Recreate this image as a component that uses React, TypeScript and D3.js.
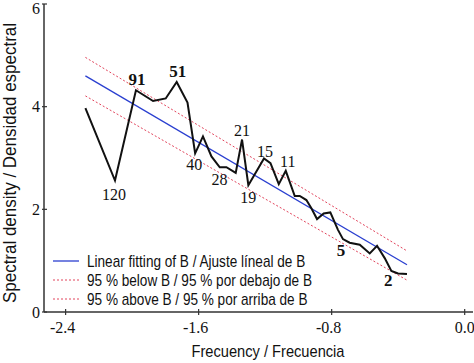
import React from 'react';
import * as d3 from 'd3';

// spectral density vs frequency (log-log)
const freq = [
  -2.281, -2.103, -1.977, -1.874, -1.798, -1.732, -1.667, -1.621, -1.574, -1.523,
  -1.473, -1.433, -1.377, -1.339, -1.301, -1.207, -1.168, -1.118, -1.076, -1.022,
  -0.992, -0.952, -0.922, -0.888, -0.848, -0.808, -0.762, -0.732, -0.692, -0.631,
  -0.571, -0.527, -0.481, -0.441, -0.401, -0.347,
];
const density = [
  3.97, 2.56, 4.32, 4.11, 4.16, 4.48, 4.08, 3.09, 3.42, 3.03,
  2.82, 2.82, 2.71, 3.36, 2.47, 2.99, 2.90, 2.49, 2.75, 2.26,
  2.26, 2.18, 2.02, 1.81, 1.92, 1.94, 1.60, 1.42, 1.35, 1.31,
  1.14, 1.29, 1.05, 0.80, 0.75, 0.74,
];

// fitted line and 95% bands, given at the two ends
const fitX = [-2.281, -0.347];
const fitY = [4.60, 0.92];
const upperY = [4.96, 1.19];
const lowerY = [4.21, 0.62];

// point labels (period), the point they sit on, and weight
const labelText = ['120', '91', '51', '40', '28', '21', '19', '15', '11', '5', '2'];
const labelPoint = [1, 2, 5, 7, 11, 13, 14, 15, 18, 27, 33];
const labelBold = [false, true, true, false, false, false, false, false, false, true, true];

const xTicks = [-2.4, -1.6, -0.8, 0.0];
const yTicks = [0, 2, 4, 6];

const legendItems = [
  'Linear fitting of B / Ajuste líneal de B',
  '95 % below B / 95 % por debajo de B',
  '95 % above B / 95 % por arriba de B',
];

const W = 474;
const H = 363;
const serif = '"Liberation Serif", "Times New Roman", serif';
const sans = '"Liberation Sans", Arial, sans-serif';

// label placement relative to its point, in px
const labelOffset: [number, number][] = [
  [-1, 19], [1, -5], [1, -5], [-1, 17], [-7, 18], [0, -4],
  [0, 18], [1, -2], [2, -4], [-2, 17], [-3, 15],
];

export default function App() {
  const x = d3.scaleLinear().domain([-2.53, 0.05]).range([44, 473]);
  const y = d3.scaleLinear().domain([0, 6]).range([312, 4]);

  const pts = freq.map((f, i) => [f, density[i]] as [number, number]);
  const line = d3.line<[number, number]>().x(d => x(d[0])).y(d => y(d[1]));

  const seg = (ys: number[]) => line(fitX.map((f, i) => [f, ys[i]] as [number, number])) || '';

  const styles = [
    { stroke: '#2a3fd0', dash: undefined as string | undefined, w: 1.3 },
    { stroke: '#e2445c', dash: '2,2', w: 1 },
    { stroke: '#e2445c', dash: '2,2', w: 1 },
  ];

  const x0 = x(-2.53);

  return (
    <svg width={W} height={H} style={{ position: 'absolute', left: 0, top: 0, background: '#fff' }}>
      {/* axes */}
      <line x1={x0} x2={x(0.05)} y1={y(0)} y2={y(0)} stroke="#333" strokeWidth={1.5} />
      <line x1={x0} x2={x0} y1={y(0)} y2={y(6)} stroke="#333" strokeWidth={1.5} />
      {xTicks.map(t => (
        <g key={'x' + t}>
          <line x1={x(t)} x2={x(t)} y1={y(0) - 3} y2={y(0) + 3} stroke="#333" strokeWidth={1.2} />
          <text
            x={x(t) - (t < 0 ? 3 : 0)}
            y={y(0) + 21}
            textAnchor="middle"
            fontFamily={serif}
            fontSize={16}
            fill="#111"
          >
            {t.toFixed(1)}
          </text>
        </g>
      ))}
      {yTicks.map(t => (
        <g key={'y' + t}>
          <line x1={x0 - 2} x2={x0 + 3} y1={y(t)} y2={y(t)} stroke="#333" strokeWidth={1.2} />
          <text
            x={x0 - 4}
            y={Math.max(y(t) + 5.5, 14)}
            textAnchor="end"
            fontFamily={serif}
            fontSize={16}
            fill="#111"
          >
            {t}
          </text>
        </g>
      ))}

      {/* titles */}
      <text
        x={268}
        y={357}
        textAnchor="middle"
        fontFamily={sans}
        fontSize={17}
        textLength={153}
        lengthAdjust="spacingAndGlyphs"
        fill="#111"
      >
        Frecuency / Frecuencia
      </text>
      <text
        transform={`translate(16,163) rotate(-90)`}
        textAnchor="middle"
        fontFamily={sans}
        fontSize={18}
        textLength={280}
        lengthAdjust="spacingAndGlyphs"
        fill="#111"
      >
        Spectral density / Densidad espectral
      </text>

      {/* fit and bands */}
      <path d={seg(upperY)} fill="none" stroke={styles[2].stroke} strokeWidth={1} strokeDasharray="2,2" />
      <path d={seg(lowerY)} fill="none" stroke={styles[1].stroke} strokeWidth={1} strokeDasharray="2,2" />
      <path d={seg(fitY)} fill="none" stroke={styles[0].stroke} strokeWidth={1.3} />

      {/* data */}
      <path d={line(pts) || ''} fill="none" stroke="#111" strokeWidth={2} strokeLinejoin="miter" />

      {labelText.map((t, i) => {
        const p = pts[labelPoint[i]];
        const [dx, dy] = labelOffset[i];
        return (
          <text
            key={'l' + i}
            x={x(p[0]) + dx}
            y={y(p[1]) + dy}
            textAnchor="middle"
            fontFamily={serif}
            fontSize={labelBold[i] ? 17 : 16}
            fontWeight={labelBold[i] ? 'bold' : 'normal'}
            fill="#111"
          >
            {t}
          </text>
        );
      })}

      {/* legend */}
      {legendItems.map((t, i) => (
        <g key={'lg' + i} transform={`translate(53,${261 + i * 19})`}>
          <line x1={0} x2={26} y1={0} y2={0} stroke={styles[i].stroke} strokeWidth={styles[i].w} strokeDasharray={styles[i].dash} />
          <text transform="translate(34,6) scale(0.85,1)" fontFamily={sans} fontSize={16} fill="#111">
            {t}
          </text>
        </g>
      ))}
    </svg>
  );
}
